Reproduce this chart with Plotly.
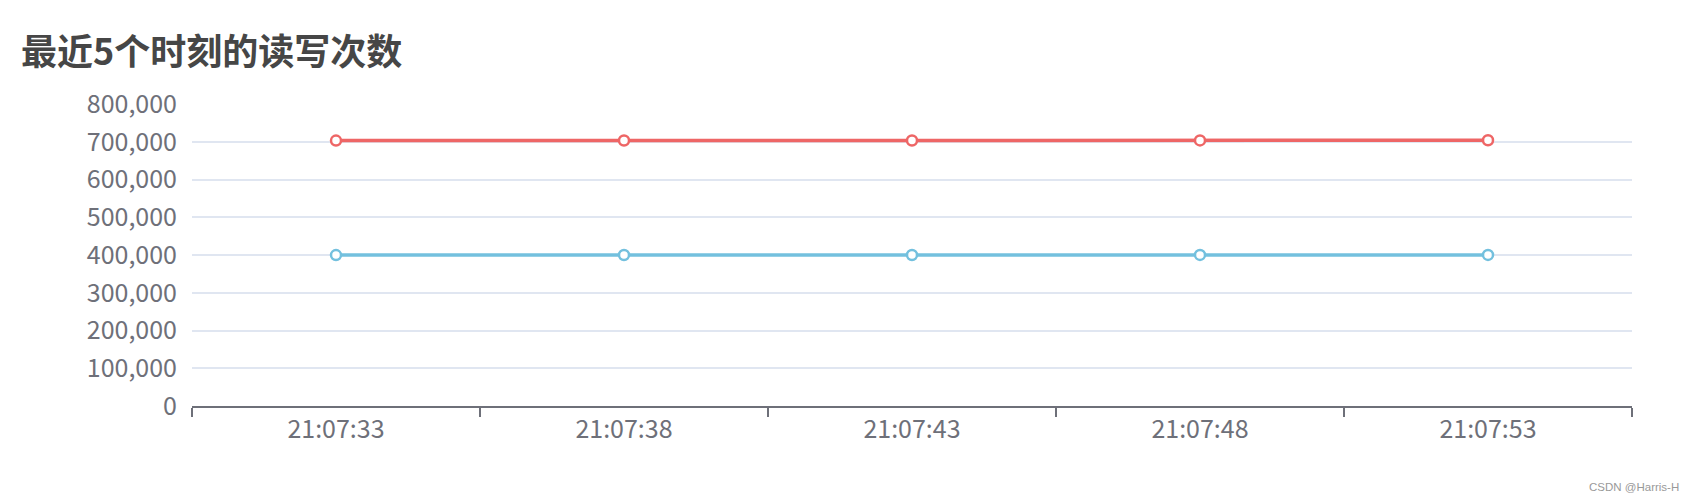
import plotly.graph_objects as go

# 最近5个时刻
times = ["21:07:33", "21:07:38", "21:07:43", "21:07:48", "21:07:53"]
# 读写次数（估计值）
series_a = [703000, 703200, 703400, 703600, 703900]
series_b = [399800, 399900, 400100, 400200, 400300]
y_ticks = [0, 100000, 200000, 300000, 400000, 500000, 600000, 700000, 800000]

FONT = "Noto Sans CJK SC"
GREY = "#6E7079"

fig = go.Figure()
for vals, col in [(series_b, "#73C0DE"), (series_a, "#EE6666")]:
    fig.add_trace(go.Scatter(
        x=times, y=vals, mode="lines+markers",
        line=dict(color=col, width=3.5),
        marker=dict(symbol="circle", size=10, color="white",
                    line=dict(color=col, width=2.5)),
        showlegend=False,
    ))

fig.update_layout(
    width=1693, height=501,
    margin=dict(l=184, r=69, t=96, b=103),
    paper_bgcolor="white", plot_bgcolor="white",
    font=dict(family=FONT, color=GREY, size=25),
    title=dict(text="<b>最近5个时刻的读写次数</b>", x=13 / 1693, xanchor="left",
               xref="container", y=1 - 44 / 501, yanchor="middle", yref="container",
               font=dict(family=FONT, size=36, color="#464646")),
)
fig.update_xaxes(
    type="category", range=[-0.5, 4.5],
    showgrid=False, showline=True, linecolor=GREY, linewidth=2,
    ticks="outside", tickson="boundaries", ticklen=9, tickcolor=GREY, tickwidth=2,
    tickfont=dict(size=25, color=GREY), zeroline=False,
)
fig.update_yaxes(
    range=[0, 800000], tickvals=y_ticks, tickformat=",d",
    showgrid=True, gridcolor="#E0E6F1", gridwidth=2,
    zeroline=False, showline=False, ticks="",
    ticklabelstandoff=14,
    tickfont=dict(size=25, color=GREY),
)
# 水印
fig.add_annotation(
    text="CSDN @Harris-H", xref="paper", yref="paper",
    x=(1673 - 184) / 1440, y=(398 - 479) / 302, xanchor="right", yanchor="middle",
    showarrow=False, font=dict(family="Liberation Sans", size=11.5, color="#999999"),
)

fig.write_html("out.html")
